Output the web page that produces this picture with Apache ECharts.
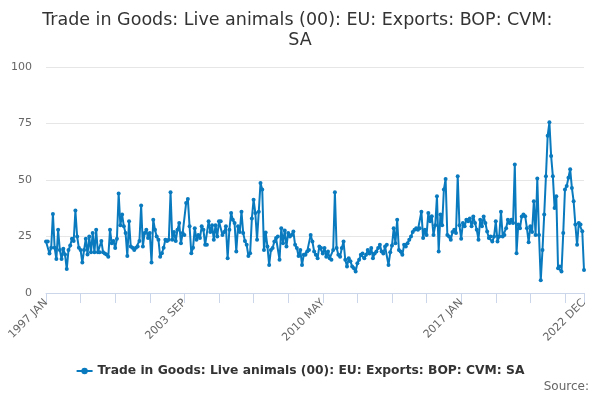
<!DOCTYPE html>
<html>
<head>
<meta charset="utf-8">
<script src="https://cdn.jsdelivr.net/npm/echarts@6/dist/echarts.min.js"></script>
<style>
  html, body { margin: 0; padding: 0; background: #fff; }
  #chart { width: 600px; height: 400px; }
</style>
</head>
<body>
<div id="chart"></div>
<script>
// monthly, 1997 JAN .. 2022 DEC
var years = [];
for (var y = 1997; y <= 2022; y++) years.push(y);
var months = ['JAN','FEB','MAR','APR','MAY','JUN','JUL','AUG','SEP','OCT','NOV','DEC'];
var categories = [];
years.forEach(function (yr) {
    months.forEach(function (m) { categories.push(yr + ' ' + m); });
});

var values1997to2000 = [
    22.8, 22.8, 17.5, 20, 35, 20, 15, 28, 19, 15, 19.6, 17,
    10.6, 19, 21, 24, 23, 36.5, 25, 20, 19, 13.5, 19, 24,
    17, 25, 18, 26.5, 18, 28, 18, 18, 23, 18, 17.5, 17,
    16, 28, 22, 23
];
var values2000to2003 = [
    19.9, 24, 44, 30, 34.7, 29.5, 26.5, 16.4, 31.7, 20.6, 20, 19,
    20, 20.6, 23, 38.7, 20.6, 26.5, 28, 24.3, 26.5, 13.5, 32.4, 28,
    25, 23.6, 16, 17.6, 20, 23.6, 23, 23.6, 44.6, 23.6, 27, 23,
    28, 31, 22, 26.5
];
var values2003to2007 = [
    25.7, 39.8, 41.6, 29.5, 17.6, 20, 28.7, 23.6, 25.7, 24.3, 29.5, 28,
    21.3, 21.3, 31.7, 27, 30, 23.6, 30, 25, 31.7, 31.7, 25.7, 27,
    29.5, 15.4, 28, 35.4, 32.4, 31, 18.4, 29.5, 27, 36, 26.5, 23,
    21.3, 16.4, 17.6, 33, 41.3
];
var values2007to2010 = [
    35.4, 23.6, 36, 48.7, 45.8, 19, 26.8, 20.6, 12.4, 19, 19.9, 22.8,
    24.3, 25, 14.7, 28.7, 22, 27.7, 20.6, 26.5, 25, 25.7, 27.2, 21.3,
    19.9, 16.4, 19, 12.4, 16.9, 16.9, 18.4, 19, 25.7, 22.8, 18.4, 16.9,
    15.4, 20.6, 19.9, 17.5
];
var values2010to2013 = [
    19.9, 16, 18.4, 15.4, 14.7, 19, 44.6, 19.9, 16.9, 16, 19.9, 22.8,
    14.7, 11.7, 15.4, 14, 11.7, 11, 9.5, 13.2, 14.7, 16.9, 17.5, 15.4,
    16.9, 19, 17.5, 19.9, 15.4, 17.5, 18.4, 19.9, 21.3, 18.4, 17.5, 20.6,
    21.3, 12.4, 18, 21, 28.7
];
var values2013to2017 = [
    22, 32.4, 19, 18.4, 16.9, 21.3, 20.6, 22, 23.6, 25, 27, 28,
    28.7, 28, 28.7, 36, 24.3, 28, 25.7, 35.4, 31.7, 34, 25.7, 30,
    42.8, 18.4, 34.7, 30, 45.8, 50.4, 25.7, 25, 23.6, 27, 28, 26.5,
    51.7, 30, 24
];
var values2017to2019 = [
    31, 29.5, 32.4, 31.7, 33, 29.5, 33.9, 31, 28, 23.6, 32.4, 29.5,
    33.9, 31, 27.2, 24.3, 25, 22.8, 25, 31.7, 22.8, 25, 36, 25,
    25.7, 28.7, 32.4, 31, 32.4, 31, 56.9, 17.6, 30.3, 28.7, 33.9
];
var values2020to2022 = [
    34.7, 34, 28.7, 22.5, 29.5, 27, 40.6, 25.7, 50.7, 25.7, 5.6, 19,
    34.7, 51.7, 69.6, 75.5, 60.6, 51.7, 37.6, 42.8, 11, 11.7, 9.5, 26.5,
    45.8, 47.3, 51, 54.8, 46.5, 40.6, 30.3, 21.3, 31, 30.3, 27.3, 10.2
];
var exportsCvm = [].concat(values1997to2000, values2000to2003, values2003to2007,
    values2007to2010, values2010to2013, values2013to2017, values2017to2019, values2020to2022);

var seriesName = 'Trade in Goods: Live animals (00): EU: Exports: BOP: CVM: SA';
var lastIdx = categories.length - 1;

var chart = echarts.init(document.getElementById('chart'));
var option = {
    animation: false,
    title: {
        text: seriesName,
        left: 'center',
        top: 5,
        textStyle: {
            fontFamily: 'DejaVu Sans',
            fontSize: 17.5,
            fontWeight: 'normal',
            color: '#333',
            width: 530,
            overflow: 'break',
            lineHeight: 20
        }
    },
    graphic: [{
        type: 'text',
        right: 11,
        top: 381,
        style: { text: 'Source:', fontFamily: 'DejaVu Sans', fontSize: 12, fill: '#666' }
    }],
    legend: {
        bottom: 18,
        left: 'center',
        itemWidth: 16,
        itemHeight: 8,
        textStyle: { fontFamily: 'DejaVu Sans', fontSize: 12.3, fontWeight: 'bold', color: '#333' },
        data: [seriesName]
    },
    grid: {
        left: 46,
        right: 16,
        top: 67,
        bottom: 107
    },
    xAxis: {
        type: 'category',
        boundaryGap: false,
        data: categories,
        axisLine: { lineStyle: { color: '#ccd6eb' } },
        axisTick: {
            length: 10,
            lineStyle: { color: '#ccd6eb' },
            interval: function (idx) { return idx % 20 === 0 || idx === lastIdx; }
        },
        axisLabel: {
            rotate: 45,
            interval: 79,
            showMaxLabel: true,
            fontFamily: 'DejaVu Sans',
            fontSize: 11,
            color: '#666'
        }
    },
    yAxis: {
        type: 'value',
        min: 0,
        max: 100,
        interval: 25,
        axisLine: { show: false },
        axisTick: { show: false },
        axisLabel: { fontFamily: 'DejaVu Sans', fontSize: 11, color: '#666', margin: 14 },
        splitLine: { lineStyle: { color: '#e6e6e6' } }
    },
    series: [{
        name: seriesName,
        type: 'line',
        data: exportsCvm,
        symbol: 'circle',
        symbolSize: 4,
        showAllSymbol: true,
        itemStyle: { color: '#0a7abf' },
        lineStyle: { width: 2, color: '#0a7abf' }
    }]
};
chart.setOption(option);
</script>
</body>
</html>
